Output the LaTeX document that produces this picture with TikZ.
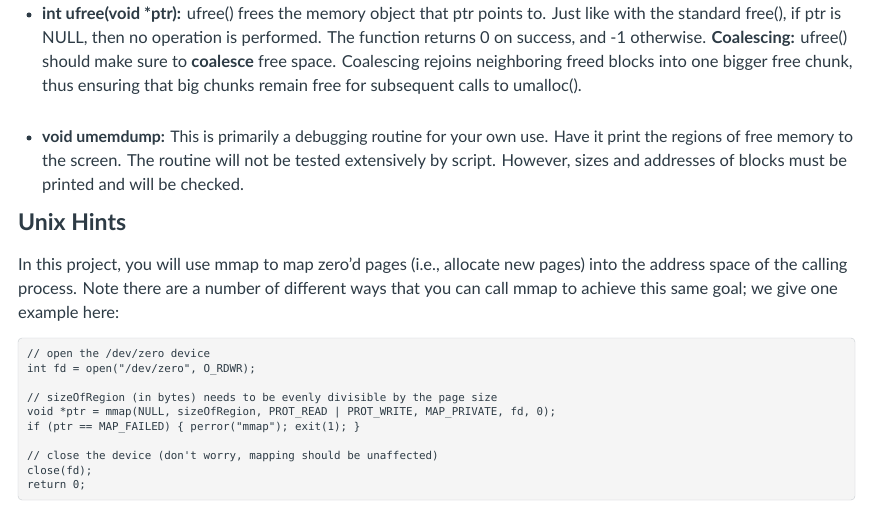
\documentclass[tikz,border=0pt]{standalone}
\usepackage{fontspec}
\setmainfont{Lato}
\newfontfamily\codefont{DejaVu Sans Mono}
\definecolor{txt}{HTML}{2D3B45}
\definecolor{codebg}{HTML}{F5F5F5}
\definecolor{codebd}{HTML}{C7CDD1}
\begin{document}
\begin{tikzpicture}[x=1pt,y=-1pt,
  ln/.style={anchor=base west,inner sep=0pt,text=txt,font=\fontsize{16.5}{18}\selectfont},
  cd/.style={anchor=base west,inner sep=0pt,text=txt,font=\codefont\fontsize{10.85}{13}\selectfont},
  bul/.style={circle,fill=txt,inner sep=0pt,minimum size=5pt}]
\useasboundingbox (0,0) rectangle (876,508);
\fill[white] (0,0) rectangle (876,508);
\node[bul] (b1) at (29,15) {};
\node[ln] (l1) at (42,20) {\textbf{int ufree(void *ptr):} ufree() frees the memory object that ptr points to. Just like with the standard free(), if ptr is};
\node[ln] (l2) at (42,44) {NULL, then no operation is performed. The function returns 0 on success, and -1 otherwise. \textbf{Coalescing:} ufree()};
\node[ln] (l3) at (42,68) {should make sure to \textbf{coalesce} free space. Coalescing rejoins neighboring freed blocks into one bigger free chunk,};
\node[ln] (l4) at (42,92) {thus ensuring that big chunks remain free for subsequent calls to umalloc().};
\node[bul] (b2) at (29,138) {};
\node[ln,font=\fontsize{15.9}{18}\selectfont] (m1) at (42,143) {\textbf{void umemdump:} This is primarily a debugging routine for your own use. Have it print the regions of free memory to};
\node[ln] (m2) at (42,167) {the screen. The routine will not be tested extensively by script. However, sizes and addresses of blocks must be};
\node[ln] (m3) at (42,191) {printed and will be checked.};
\node[ln,font=\fontsize{23}{26}\selectfont\bfseries] (h) at (18,230) {Unix Hints};
\node[ln] (p1) at (18,270) {In this project, you will use mmap to map zero'd pages (i.e., allocate new pages) into the address space of the calling};
\node[ln] (p2) at (18,294) {process. Note there are a number of different ways that you can call mmap to achieve this same goal; we give one};
\node[ln] (p3) at (18,318) {example here:};
\draw[codebd,fill=codebg,rounded corners=4pt] (18,338) rectangle (855,500);
\node[cd] at (27,357) {// open the /dev/zero device};
\node[cd] at (27,372) {int fd = open("/dev/zero", O\_RDWR);};
\node[cd] at (27,401) {// sizeOfRegion (in bytes) needs to be evenly divisible by the page size};
\node[cd] at (27,415) {void *ptr = mmap(NULL, sizeOfRegion, PROT\_READ | PROT\_WRITE, MAP\_PRIVATE, fd, 0);};
\node[cd] at (27,430) {if (ptr == MAP\_FAILED) \{ perror("mmap"); exit(1); \}};
\node[cd] at (27,459) {// close the device (don't worry, mapping should be unaffected)};
\node[cd] at (27,474) {close(fd);};
\node[cd] at (27,488) {return 0;};
\end{tikzpicture}
\end{document}
